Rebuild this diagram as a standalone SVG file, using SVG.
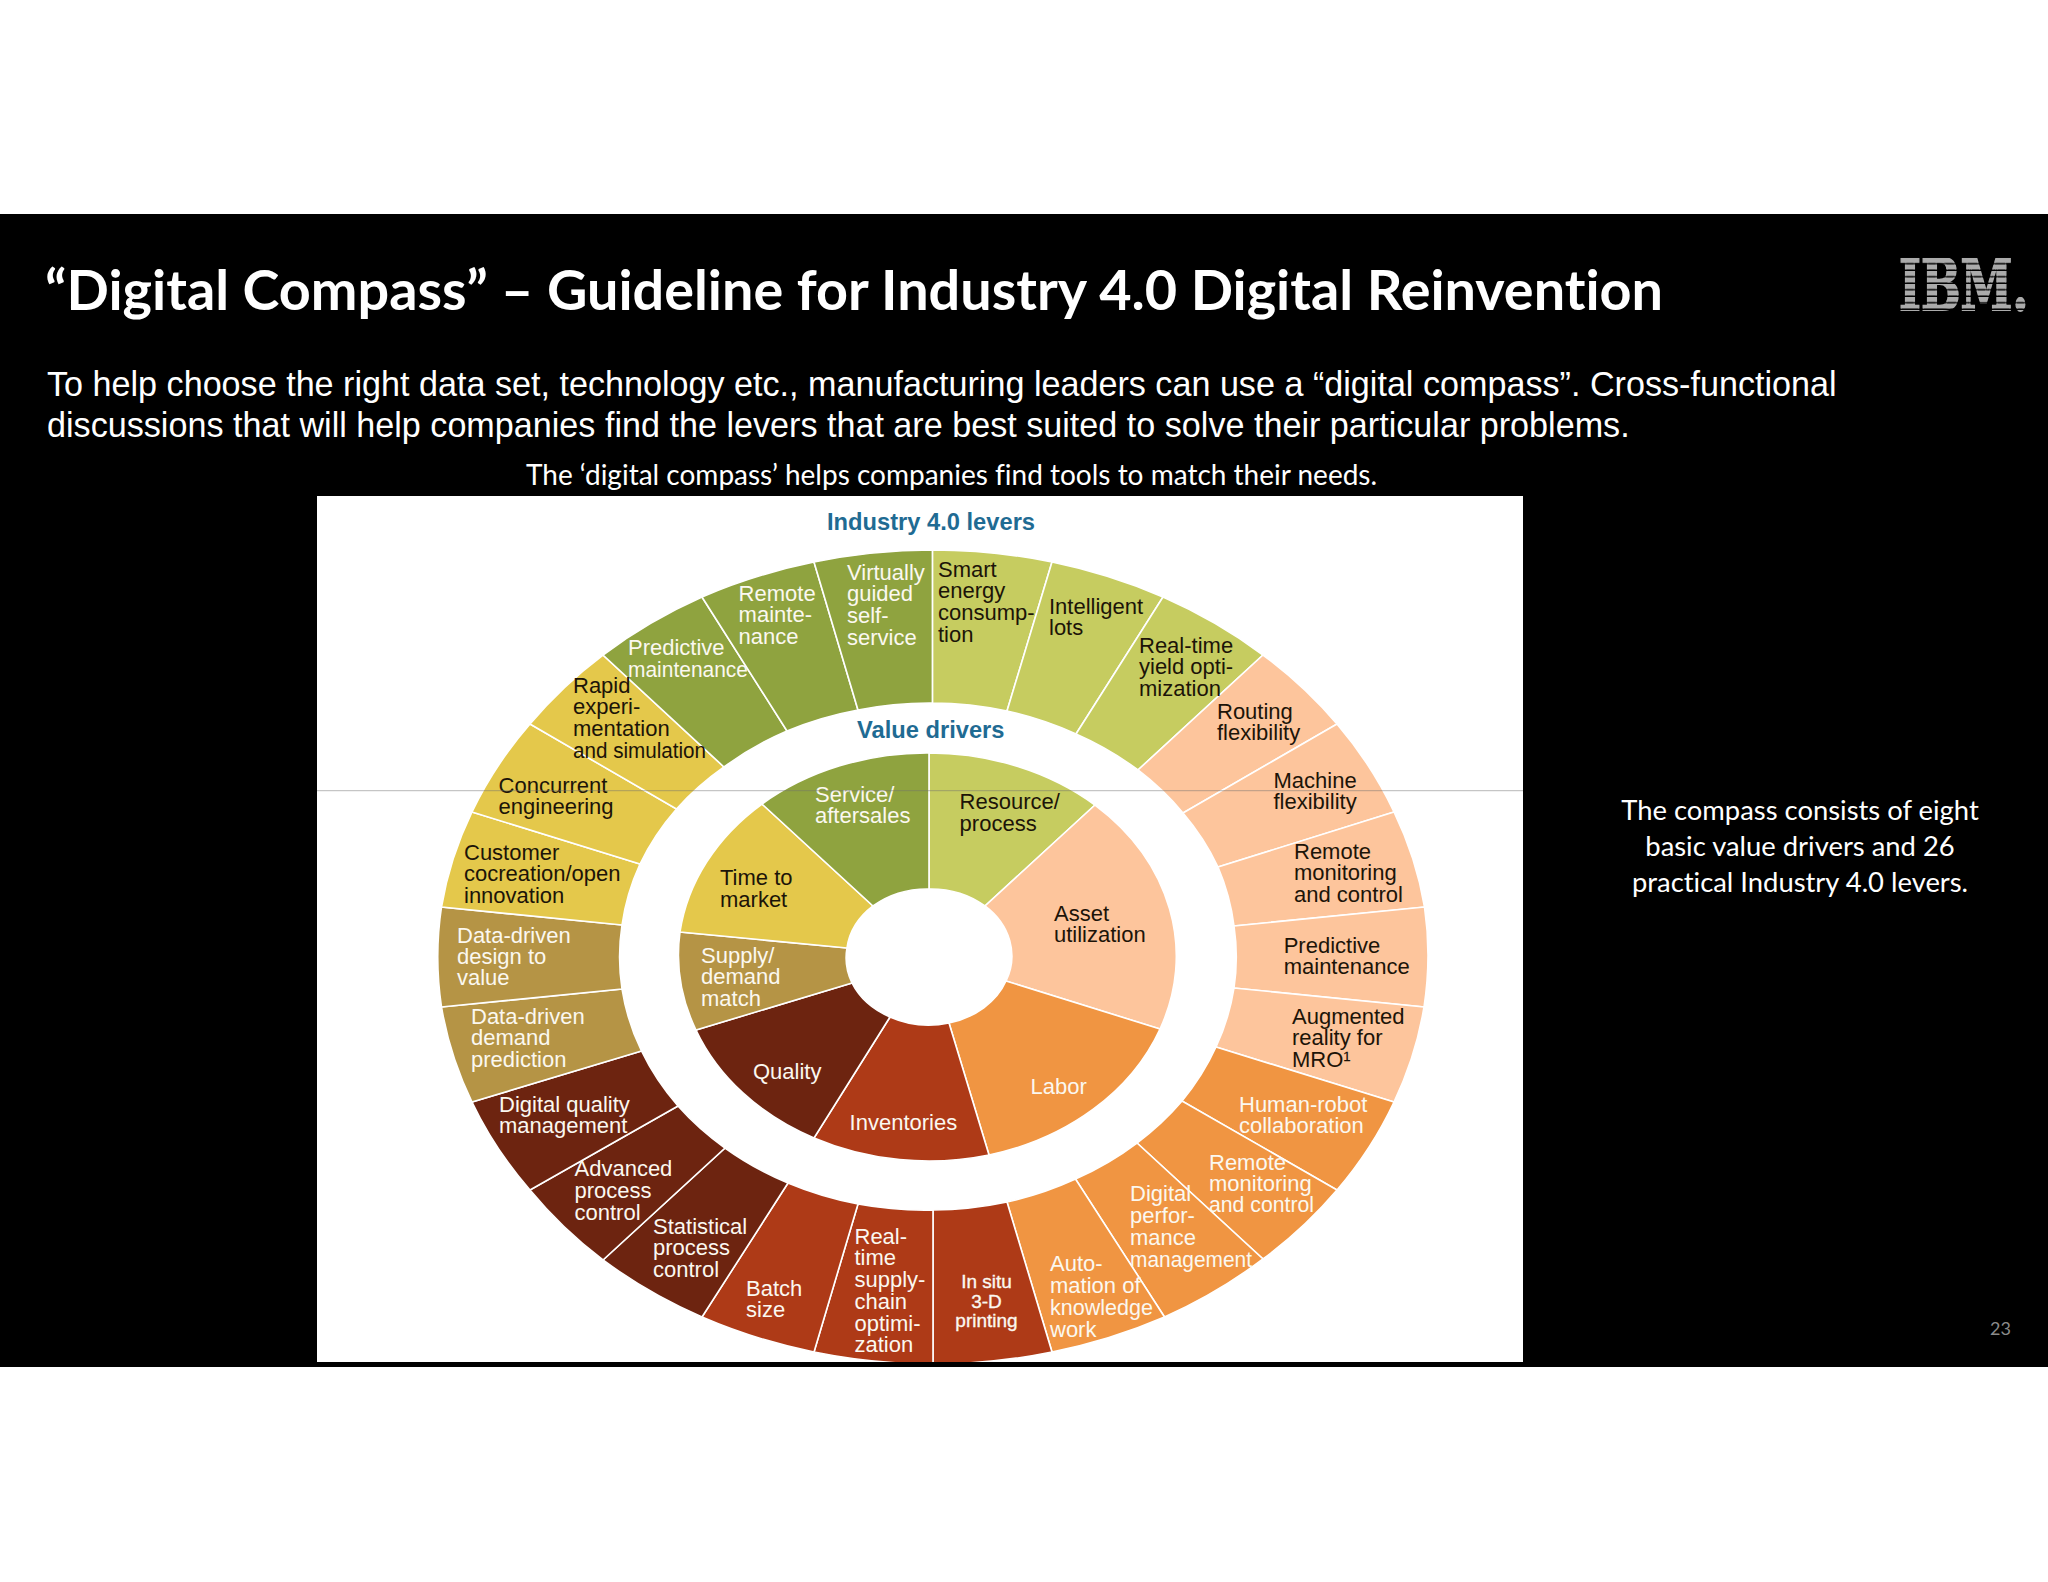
<svg xmlns="http://www.w3.org/2000/svg" width="2048" height="1582" viewBox="0 0 2048 1582">
<style>
text{font-family:"Liberation Sans",Arial,sans-serif;font-variant-ligatures:none}
#wedges path{stroke:#fff;stroke-width:1.6;stroke-linejoin:miter}
.l{font-size:22px}
.k{fill:#1c1408}.f{fill:#fbf8f0}
.gn{fill:#8fa33f}.yg{fill:#c6cc60}.pe{fill:#fdc59c}.or{fill:#f09542}.rd{fill:#ae3a17}.dk{fill:#6d2410}.tn{fill:#b59445}.ye{fill:#e4c84b}
.hd{font-size:23.700px;font-weight:700;fill:#1f6b93}
text.cal,.cal{font-family:Lato,"Open Sans",sans-serif;fill:#fff}
</style>
<defs>
<clipPath id="imgclip"><rect x="317" y="496" width="1206" height="866"/></clipPath>
<pattern id="ibmstripes" patternUnits="userSpaceOnUse" x="0" y="-52" width="10" height="6.500"><rect width="10" height="5" fill="#ababab"/></pattern>
</defs>
<rect width="2048" height="1582" fill="#fff"/>
<rect y="214" width="2048" height="1153" fill="#000"/>
<text id="title" class="cal" x="45" y="310" font-size="55" font-weight="700" textLength="1618" lengthAdjust="spacingAndGlyphs">“Digital Compass” – Guideline for Industry 4.0 Digital Reinvention</text>
<text id="ibm-logo" transform="translate(1899 310) scale(.66 1)" font-size="71" font-weight="700" fill="url(#ibmstripes)" stroke="url(#ibmstripes)" stroke-width="2" style="font-family:'DejaVu Serif',serif">IBM.</text>
<text id="intro" fill="#fff" font-size="34.150px"><tspan x="47" y="396">To help choose the right data set, technology etc., manufacturing leaders can use a “digital compass”. Cross-functional</tspan><tspan x="47" y="437">discussions that will help companies find the levers that are best suited to solve their particular problems.</tspan></text>
<text id="caption" class="cal" x="526" y="485" font-size="28">The ‘digital compass’ helps companies find tools to match their needs.</text>
<text id="side-note" class="cal" font-size="27.400" text-anchor="middle"><tspan x="1800" y="820">The compass consists of eight</tspan><tspan x="1800" y="856">basic value drivers and 26</tspan><tspan x="1800" y="892">practical Industry 4.0 levers.</tspan></text>
<text id="page" class="cal" x="1990" y="1335" font-size="18" style="fill:#8a8a8a">23</text>
<rect id="chart-bg" x="317" y="496" width="1206" height="866" fill="#fff"/>
<g id="wedges" clip-path="url(#imgclip)">
<path id="w-smart" class="yg" d="M932.400 550A495 407 0 0 1 1052 562L1007 711A306 254 0 0 0 932.400 703Z"/>
<path id="w-lots" class="yg" d="M1052 562A495 407 0 0 1 1163 597L1076 734A306 254 0 0 0 1007 711Z"/>
<path id="w-yield" class="yg" d="M1163 597A495 407 0 0 1 1263 655L1138 770A306 254 0 0 0 1076 734Z"/>
<path id="w-routing" class="pe" d="M1263 655A495 407 0 0 1 1337 724L1183 813A306 254 0 0 0 1138 770Z"/>
<path id="w-machine" class="pe" d="M1337 724A495 407 0 0 1 1394 812L1218 867A306 254 0 0 0 1183 813Z"/>
<path id="w-remote-mon-1" class="pe" d="M1394 812A495 407 0 0 1 1424.500 907L1234 926A306 254 0 0 0 1218 867Z"/>
<path id="w-pred-1" class="pe" d="M1424.500 907A495 407 0 0 1 1424 1007L1234 988A306 254 0 0 0 1234 926Z"/>
<path id="w-ar" class="pe" d="M1424 1007A495 407 0 0 1 1394 1102L1216 1047A306 254 0 0 0 1234 988Z"/>
<path id="w-robot" class="or" d="M1394 1102A495 407 0 0 1 1337 1190L1182 1101A306 254 0 0 0 1216 1047Z"/>
<path id="w-remote-mon-2" class="or" d="M1337 1190A495 407 0 0 1 1263 1259L1137 1143A306 254 0 0 0 1182 1101Z"/>
<path id="w-perf" class="or" d="M1263 1259A495 407 0 0 1 1164.500 1317L1075.500 1179A306 254 0 0 0 1137 1143Z"/>
<path id="w-auto" class="or" d="M1164.500 1317A495 407 0 0 1 1052 1352L1007 1202A306 254 0 0 0 1075.500 1179Z"/>
<path id="w-insitu" class="rd" d="M1052 1352A495 407 0 0 1 933 1364L933 1210A306 254 0 0 0 1007 1202Z"/>
<path id="w-supply" class="rd" d="M933 1364A495 407 0 0 1 814 1352L858 1204A306 254 0 0 0 933 1210Z"/>
<path id="w-batch" class="rd" d="M814 1352A495 407 0 0 1 702 1317L788 1183A306 254 0 0 0 858 1204Z"/>
<path id="w-spc" class="dk" d="M702 1317A495 407 0 0 1 603 1260L725 1148A306 254 0 0 0 788 1183Z"/>
<path id="w-apc" class="dk" d="M603 1260A495 407 0 0 1 530 1190L678 1106A306 254 0 0 0 725 1148Z"/>
<path id="w-dqm" class="dk" d="M530 1190A495 407 0 0 1 472 1102L641.500 1051A306 254 0 0 0 678 1106Z"/>
<path id="w-demand" class="tn" d="M472 1102A495 407 0 0 1 441.500 1007L622 989A306 254 0 0 0 641.500 1051Z"/>
<path id="w-design" class="tn" d="M441.500 1007A495 407 0 0 1 441.500 907L622 925A306 254 0 0 0 622 989Z"/>
<path id="w-cocreation" class="ye" d="M441.500 907A495 407 0 0 1 472 812L640 864A306 254 0 0 0 622 925Z"/>
<path id="w-concurrent" class="ye" d="M472 812A495 407 0 0 1 530 724L676.500 809A306 254 0 0 0 640 864Z"/>
<path id="w-rapid" class="ye" d="M530 724A495 407 0 0 1 603 655L724 767A306 254 0 0 0 676.500 809Z"/>
<path id="w-pred-2" class="gn" d="M603 655A495 407 0 0 1 702 597L787 731A306 254 0 0 0 724 767Z"/>
<path id="w-remote-maint" class="gn" d="M702 597A495 407 0 0 1 814 562L858 710A306 254 0 0 0 787 731Z"/>
<path id="w-guided" class="gn" d="M814 562A495 407 0 0 1 932.400 550L932.400 703A306 254 0 0 0 858 710Z"/>
<path id="w-resource" class="yg" d="M929 753A249 204.500 0 0 1 1095 805L985 906A82 67.500 0 0 0 929 889Z"/>
<path id="w-asset" class="pe" d="M1095 805A249 204.500 0 0 1 1160 1029L1006 981A82 67.500 0 0 0 985 906Z"/>
<path id="w-labor" class="or" d="M1160 1029A249 204.500 0 0 1 989 1155L949 1023A82 67.500 0 0 0 1006 981Z"/>
<path id="w-inventories" class="rd" d="M989 1155A249 204.500 0 0 1 814 1138L890 1017A82 67.500 0 0 0 949 1023Z"/>
<path id="w-quality" class="dk" d="M814 1138A249 204.500 0 0 1 696 1030L852 983A82 67.500 0 0 0 890 1017Z"/>
<path id="w-supply-match" class="tn" d="M696 1030A249 204.500 0 0 1 680 932L847 948A82 67.500 0 0 0 852 983Z"/>
<path id="w-time" class="ye" d="M680 932A249 204.500 0 0 1 762 804L873 906A82 67.500 0 0 0 847 948Z"/>
<path id="w-service" class="gn" d="M762 804A249 204.500 0 0 1 929 753L929 889A82 67.500 0 0 0 873 906Z"/>
</g>
<g id="labels" transform="translate(0 .8)">
<text class="hd" x="827" y="529">Industry 4.0 levers</text>
<text class="hd" x="857" y="737">Value drivers</text>
<text class="l k"><tspan x="938" y="576">Smart</tspan><tspan x="938" dy="21.700">energy</tspan><tspan x="938" dy="21.700">consump-</tspan><tspan x="938" dy="21.700">tion</tspan></text>
<text class="l k"><tspan x="1049" y="613">Intelligent</tspan><tspan x="1049" dy="21.700">lots</tspan></text>
<text class="l k"><tspan x="1139" y="652">Real-time</tspan><tspan x="1139" dy="21.700">yield opti-</tspan><tspan x="1139" dy="21.700">mization</tspan></text>
<text class="l k"><tspan x="1217" y="718">Routing</tspan><tspan x="1217" dy="21">flexibility</tspan></text>
<text class="l k"><tspan x="1273.500" y="787">Machine</tspan><tspan x="1273.500" dy="21">flexibility</tspan></text>
<text class="l k"><tspan x="1294" y="858">Remote</tspan><tspan x="1294" dy="21.700">monitoring</tspan><tspan x="1294" dy="21.700">and control</tspan></text>
<text class="l k"><tspan x="1283.700" y="952">Predictive</tspan><tspan x="1283.700" dy="21.700">maintenance</tspan></text>
<text class="l k"><tspan x="1292" y="1023">Augmented</tspan><tspan x="1292" dy="21.700">reality for</tspan><tspan x="1292" dy="21.700">MRO¹</tspan></text>
<text class="l f"><tspan x="1239" y="1111">Human-robot</tspan><tspan x="1239" dy="21.700">collaboration</tspan></text>
<text class="l f"><tspan x="1209" y="1169">Remote</tspan><tspan x="1209" dy="21.300">monitoring</tspan><tspan x="1209" dy="21.300" textLength="105" lengthAdjust="spacingAndGlyphs">and control</tspan></text>
<text class="l f"><tspan x="1130" y="1200">Digital</tspan><tspan x="1130" dy="22">perfor-</tspan><tspan x="1130" dy="22">mance</tspan><tspan x="1130" dy="22" textLength="122" lengthAdjust="spacingAndGlyphs">management</tspan></text>
<text class="l f"><tspan x="1050" y="1270">Auto-</tspan><tspan x="1050" dy="22">mation of</tspan><tspan x="1050" dy="22" textLength="103" lengthAdjust="spacingAndGlyphs">knowledge</tspan><tspan x="1050" dy="22">work</tspan></text>
<text class="f" font-size="19" stroke="#fbf8f0" stroke-width=".35" text-anchor="middle"><tspan x="986.500" y="1287">In situ</tspan><tspan x="986.500" dy="19.800">3-D</tspan><tspan x="986.500" dy="19.800">printing</tspan></text>
<text class="l f"><tspan x="854.500" y="1243">Real-</tspan><tspan x="854.500" dy="21.700">time</tspan><tspan x="854.500" dy="21.700">supply-</tspan><tspan x="854.500" dy="21.700">chain</tspan><tspan x="854.500" dy="21.700">optimi-</tspan><tspan x="854.500" dy="21.700">zation</tspan></text>
<text class="l f"><tspan x="746" y="1295">Batch</tspan><tspan x="746" dy="21.700">size</tspan></text>
<text class="l f"><tspan x="653" y="1233">Statistical</tspan><tspan x="653" dy="21.700">process</tspan><tspan x="653" dy="21.700">control</tspan></text>
<text class="l f"><tspan x="574.500" y="1175">Advanced</tspan><tspan x="574.500" dy="22">process</tspan><tspan x="574.500" dy="22">control</tspan></text>
<text class="l f"><tspan x="499" y="1111">Digital quality</tspan><tspan x="499" dy="21.700">management</tspan></text>
<text class="l f"><tspan x="471" y="1023">Data-driven</tspan><tspan x="471" dy="21.700">demand</tspan><tspan x="471" dy="21.700">prediction</tspan></text>
<text class="l f"><tspan x="457" y="942">Data-driven</tspan><tspan x="457" dy="21">design to</tspan><tspan x="457" dy="21.700">value</tspan></text>
<text class="l k"><tspan x="464" y="859">Customer</tspan><tspan x="464" dy="21.700">cocreation/open</tspan><tspan x="464" dy="21.700">innovation</tspan></text>
<text class="l k"><tspan x="498.600" y="792">Concurrent</tspan><tspan x="498.600" dy="21.500">engineering</tspan></text>
<text class="l k"><tspan x="573" y="692">Rapid</tspan><tspan x="573" dy="21.700">experi-</tspan><tspan x="573" dy="21.700">mentation</tspan><tspan x="573" dy="21.700" textLength="133" lengthAdjust="spacingAndGlyphs">and simulation</tspan></text>
<text class="l f"><tspan x="628" y="654">Predictive</tspan><tspan x="628" dy="22" textLength="120" lengthAdjust="spacingAndGlyphs">maintenance</tspan></text>
<text class="l f"><tspan x="738.600" y="600">Remote</tspan><tspan x="738.600" dy="21.700">mainte-</tspan><tspan x="738.600" dy="21.700">nance</tspan></text>
<text class="l f"><tspan x="847" y="579">Virtually</tspan><tspan x="847" dy="21.700">guided</tspan><tspan x="847" dy="21.700">self-</tspan><tspan x="847" dy="21.700">service</tspan></text>
<text class="l k"><tspan x="959.600" y="808">Resource/</tspan><tspan x="959.600" dy="22">process</tspan></text>
<text class="l k"><tspan x="1054" y="920">Asset</tspan><tspan x="1054" dy="21.700">utilization</tspan></text>
<text class="l f" x="1030.600" y="1093">Labor</text>
<text class="l f" x="849.600" y="1129">Inventories</text>
<text class="l f" x="753" y="1078">Quality</text>
<text class="l f"><tspan x="701" y="962">Supply/</tspan><tspan x="701" dy="21.700">demand</tspan><tspan x="701" dy="21.700">match</tspan></text>
<text class="l k"><tspan x="720" y="884">Time to</tspan><tspan x="720" dy="22">market</tspan></text>
<text class="l f"><tspan x="815" y="801">Service/</tspan><tspan x="815" dy="21.500">aftersales</tspan></text>
</g>
<line id="chart-rule" x1="317" y1="790.700" x2="1523" y2="790.700" stroke="#6e6e6e" stroke-opacity=".4" stroke-width="1.300"/>
</svg>
